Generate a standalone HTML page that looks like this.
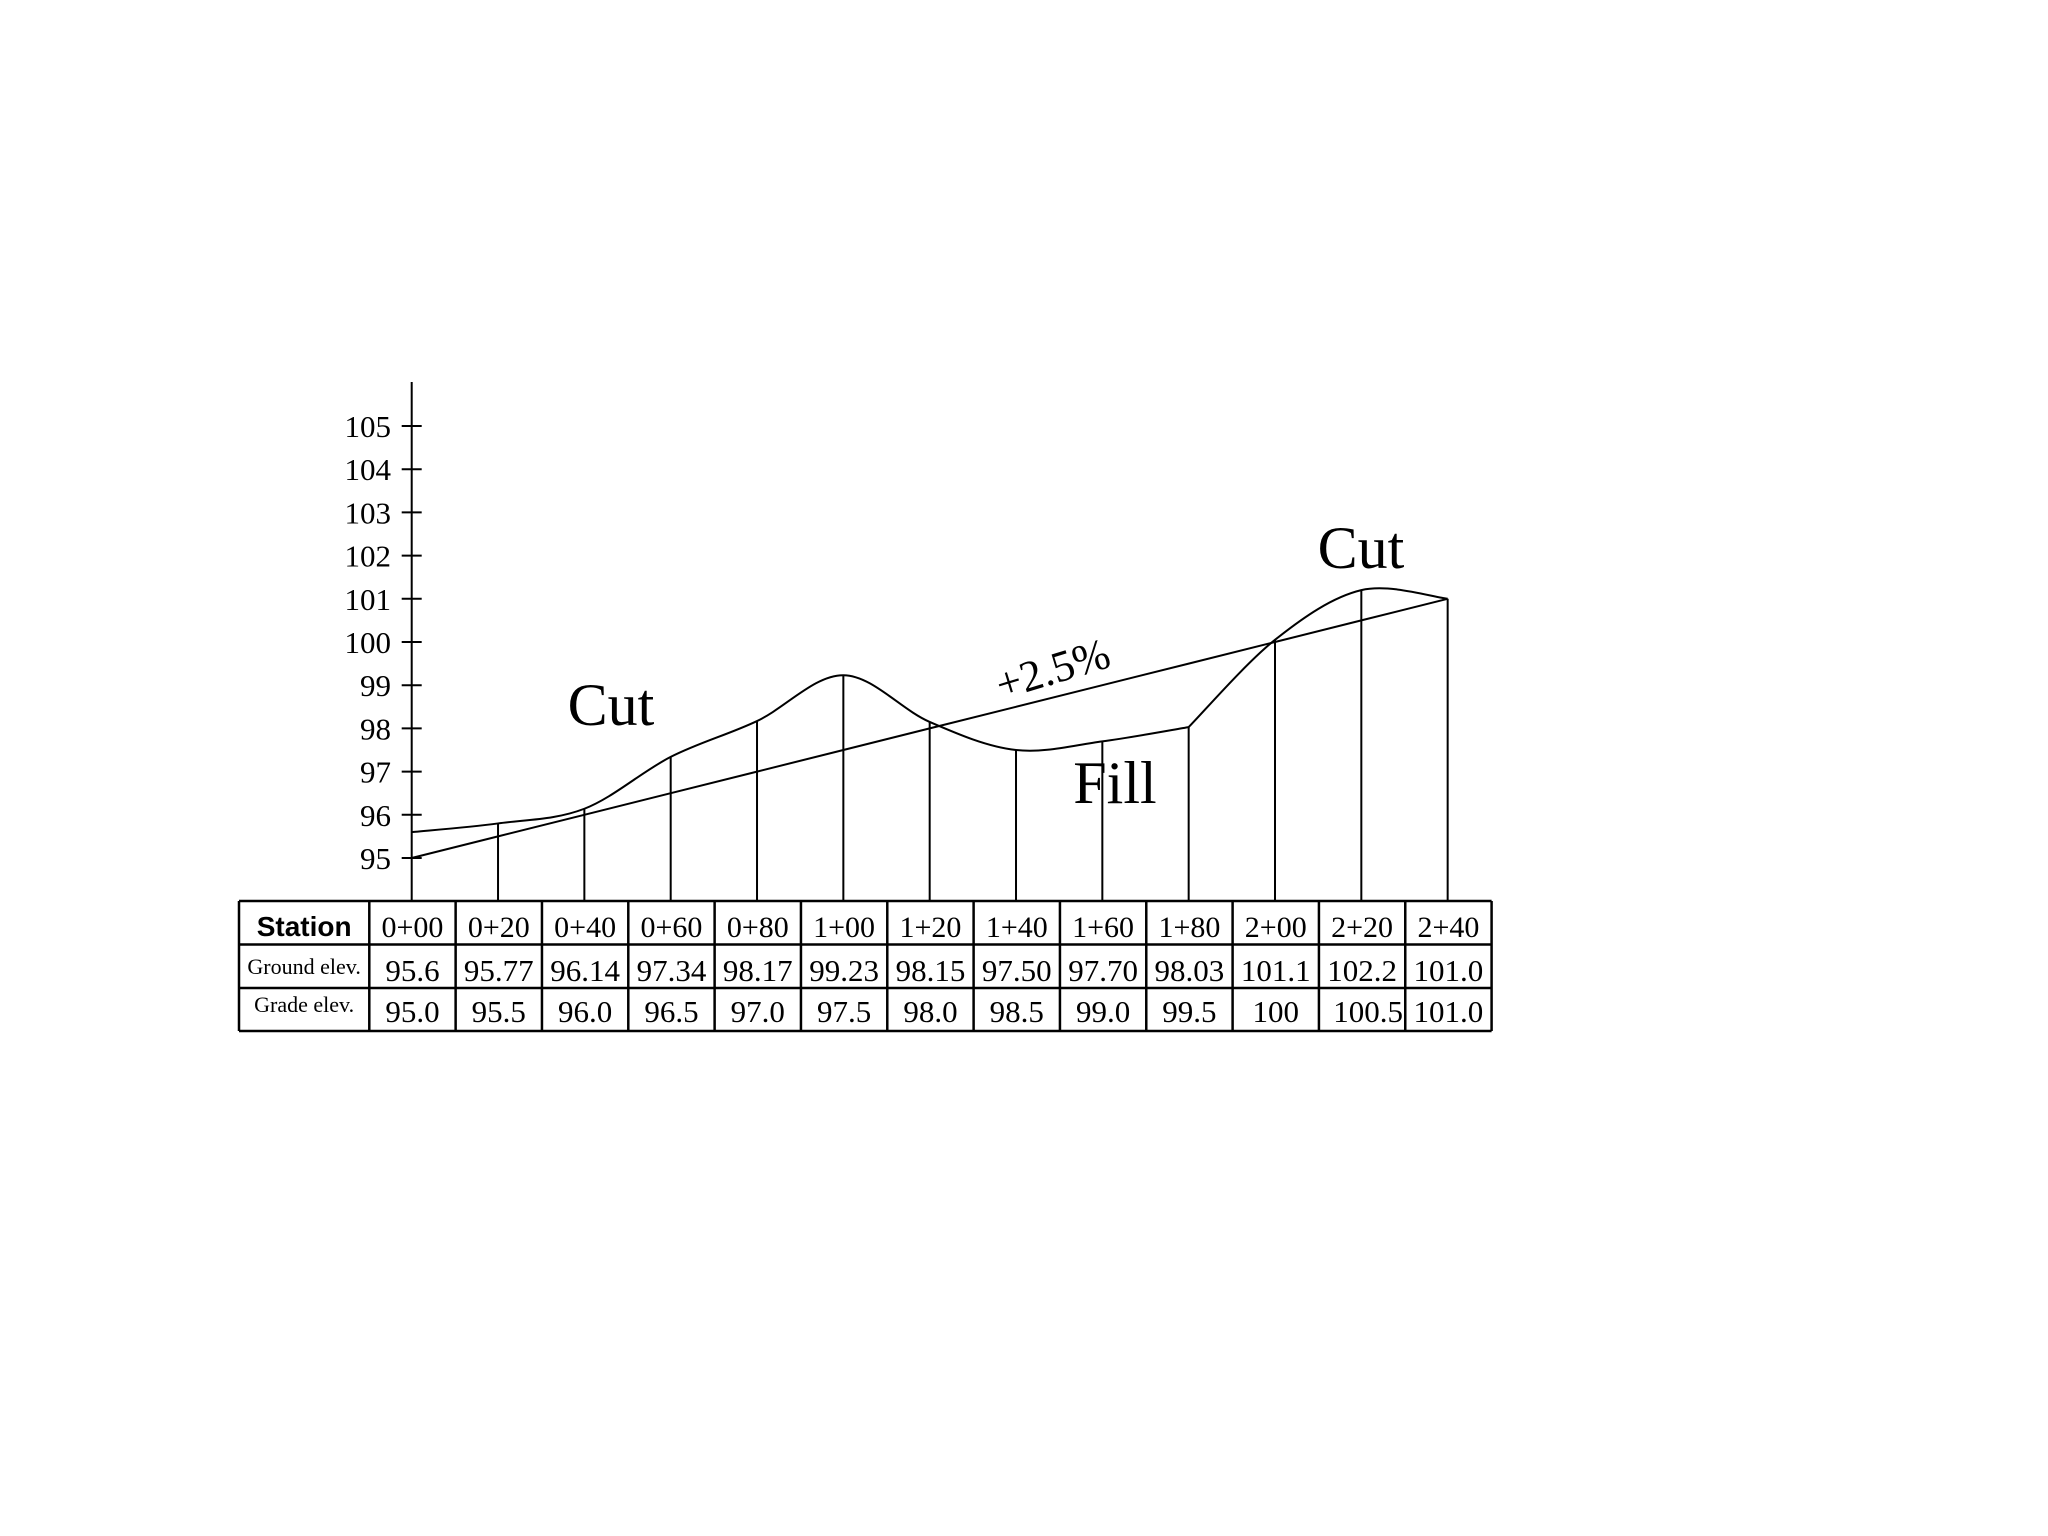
<!DOCTYPE html>
<html><head><meta charset="utf-8">
<style>
html,body{margin:0;padding:0;background:#fff;}
svg{display:block;}
text{font-family:"Liberation Serif",serif;fill:#000;}
</style></head>
<body>
<svg id="chart" width="2048" height="1536" viewBox="0 0 2048 1536" xmlns="http://www.w3.org/2000/svg">
<rect width="2048" height="1536" fill="#fff"/>
<g id="axes"></g>
<g id="marks"></g>
<g id="table"></g>
<text x="611" y="725" font-size="60" text-anchor="middle">Cut</text>
<text x="1361" y="568" font-size="60" text-anchor="middle">Cut</text>
<text x="1115" y="803" font-size="60" text-anchor="middle">Fill</text>
<text x="1057" y="683" font-size="44" text-anchor="middle" transform="rotate(-17 1057 683)">+2.5%</text>
</svg>
<script>
const stations = ["0+00","0+20","0+40","0+60","0+80","1+00","1+20","1+40","1+60","1+80","2+00","2+20","2+40"];
const groundLabels = ["95.6","95.77","96.14","97.34","98.17","99.23","98.15","97.50","97.70","98.03","101.1","102.2","101.0"];
const gradeLabels = ["95.0","95.5","96.0","96.5","97.0","97.5","98.0","98.5","99.0","99.5","100","100.5","101.0"];
const groundPlotted = [95.6,95.8,96.14,97.34,98.17,99.23,98.15,97.5,97.7,98.03,100.05,101.2,101.0];
const gradePlotted = [95.0,95.5,96.0,96.5,97.0,97.5,98.0,98.5,99.0,99.5,100.0,100.5,101.0];
const yTicks = [95,96,97,98,99,100,101,102,103,104,105];
const cornerIdx = [9];

const NS="http://www.w3.org/2000/svg";
const X0=411.7, DX=86.33, Y95=858, DY=43.2, TABLE_TOP=901;
const xS=i=>X0+i*DX;
const yS=v=>Y95-(v-95)*DY;
function mk(tag,attrs,parent,txt){const e=document.createElementNS(NS,tag);for(const k in attrs)e.setAttribute(k,attrs[k]);if(txt!==undefined)e.textContent=txt;parent.appendChild(e);return e;}

const axes=document.getElementById('axes');
let ax=mk('line',{x1:X0,y1:382,x2:X0,y2:TABLE_TOP,stroke:'#000','stroke-width':2},axes);


yTicks.forEach(v=>{
  const t=mk('line',{x1:X0-10,y1:yS(v),x2:X0+10,y2:yS(v),stroke:'#000','stroke-width':2},axes);
  
  
  const l=mk('text',{x:391,y:yS(v)+11,'font-size':31,'text-anchor':'end'},axes,String(v));
  
  
});

const marks=document.getElementById('marks');
const g=mk('polyline',{points:gradePlotted.map((v,i)=>xS(i)+','+yS(v)).join(' '),fill:'none',stroke:'#000','stroke-width':2},marks);


const P=groundPlotted.map((v,i)=>[xS(i),yS(v)]);
function tan(i){
  if(cornerIdx.includes(i))return null;
  const p0=P[Math.max(0,i-1)],p2=P[Math.min(P.length-1,i+1)];
  return [(p2[0]-p0[0])/6,(p2[1]-p0[1])/6];
}
let d='M'+P[0][0]+','+P[0][1];
for(let i=0;i<P.length-1;i++){
  const p1=P[i],p2=P[i+1];
  let t1=tan(i),t2=tan(i+1);
  if(!t1)t1=[(p2[0]-p1[0])/3*0.5,(p2[1]-p1[1])/3*0.5];
  if(!t2)t2=[(p2[0]-p1[0])/3*0.5,(p2[1]-p1[1])/3*0.5];
  d+=' C'+(p1[0]+t1[0])+','+(p1[1]+t1[1])+' '+(p2[0]-t2[0])+','+(p2[1]-t2[1])+' '+p2[0]+','+p2[1];
}
const gc=mk('path',{d:d,fill:'none',stroke:'#000','stroke-width':2},marks);


groundPlotted.forEach((v,i)=>{
  if(i===0)return;
  const l=mk('line',{x1:xS(i),y1:yS(v),x2:xS(i),y2:TABLE_TOP,stroke:'#000','stroke-width':2},marks);
  
  
});

const tb=document.getElementById('table');
const TL=239, C0=369.3, rows=[901,944.5,988,1031];
const right=C0+stations.length*DX;
rows.forEach((y,r)=>{const l=mk('line',{x1:TL,y1:y,x2:right,y2:y,stroke:'#000','stroke-width':2.5},tb);
  
  });
[TL,...stations.map((s,i)=>C0+i*DX),right].forEach(x=>{const l=mk('line',{x1:x,y1:rows[0],x2:x,y2:rows[3],stroke:'#000','stroke-width':2.5},tb);
  
  });
let h=mk('text',{x:(TL+C0)/2,y:936,'font-size':28,'font-weight':'bold','text-anchor':'middle','style':'font-family:"Liberation Sans",sans-serif'},tb,'Station');


h=mk('text',{x:(TL+C0)/2,y:974,'font-size':22,'text-anchor':'middle'},tb,'Ground elev.');


h=mk('text',{x:(TL+C0)/2,y:1012,'font-size':22,'text-anchor':'middle'},tb,'Grade elev.');


stations.forEach((s,i)=>{
  const cx=C0+i*DX+DX/2;
  let t=mk('text',{x:cx,y:937,'font-size':30,'text-anchor':'middle'},tb,s);
  
  
  t=mk('text',{x:cx,y:981,'font-size':31,'text-anchor':'middle'},tb,groundLabels[i]);
  
  
  t=mk('text',{x:gradeLabels[i]==='100.5'?cx+6:cx,y:1022,'font-size':31,'text-anchor':'middle'},tb,gradeLabels[i]);
  
  
});
</script>
</body></html>
